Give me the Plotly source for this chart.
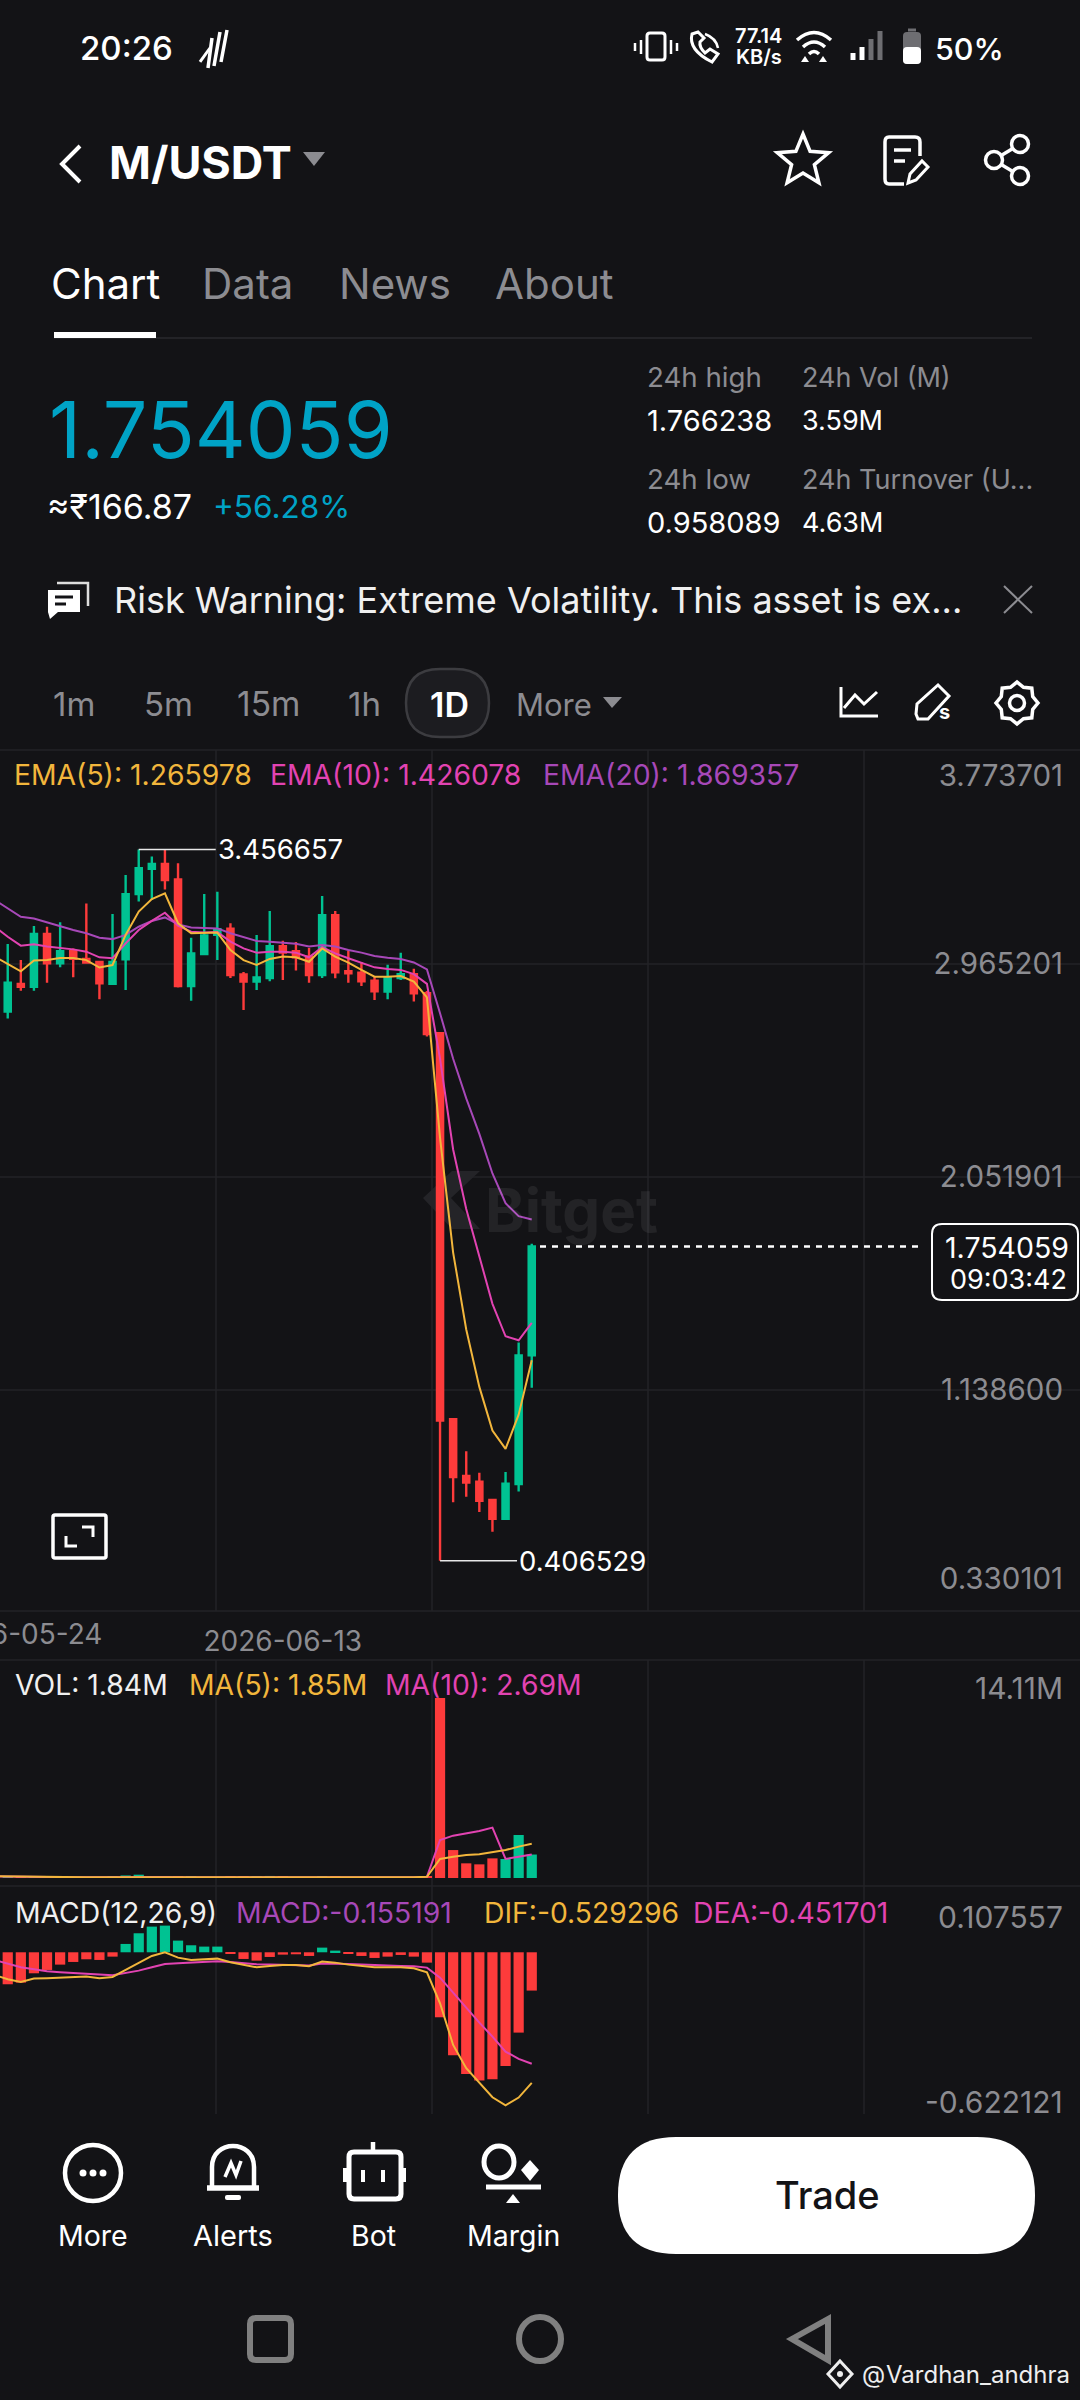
"""
M/USDT daily chart screen, rebuilt with Plotly
"""
import math
import re

import pandas as pd
import plotly.graph_objects as go

W, H = 1080, 2400
FONT = 'Inter, sans-serif'
BG = '#131316'
GRID = '#232327'
GREY = '#8c8c91'
UP = '#00c292'
DOWN = '#fd3b3b'
YELLOW = '#f2b63c'
PINK = '#e243b2'
PURPLE = '#a748b8'
CYAN = '#00a3c6'

dates = pd.date_range('2026-05-22', periods=42)

opens = [2.900, 2.761, 2.880, 2.868, 3.094, 2.968, 3.020, 2.987, 2.974, 2.880, 2.985, 3.265, 3.374, 3.394,
         3.328, 2.871, 3.008, 3.091, 3.117, 2.920, 2.890, 2.905, 3.042, 3.020, 2.997, 2.918, 3.175, 2.934,
         2.928, 2.894, 2.847, 2.905, 2.922, 2.840, 2.669, 1.013, 0.770, 0.745, 0.667, 0.586, 0.735, 1.287]
highs = [2.920, 3.051, 2.982, 3.128, 3.125, 3.144, 3.032, 3.225, 2.975, 3.180, 3.347, 3.456657, 3.426, 3.454,
         3.397, 3.078, 3.265, 3.275, 3.140, 2.931, 3.090, 3.193, 3.065, 3.060, 3.034, 3.257, 3.193, 3.022,
         2.974, 2.914, 2.962, 3.014, 2.945, 2.850, 2.669, 1.013, 0.876, 0.784, 0.672, 0.787, 1.342, 1.766238]
lows = [2.740, 2.732, 2.851, 2.851, 2.885, 2.951, 2.908, 2.968, 2.814, 2.880, 2.854, 3.233, 3.240, 3.285,
        2.865, 2.808, 3.008, 2.982, 2.905, 2.768, 2.854, 2.891, 2.897, 2.937, 2.885, 2.905, 2.904, 2.885,
        2.871, 2.811, 2.814, 2.897, 2.805, 2.654, 0.406529, 0.657, 0.681, 0.616, 0.531, 0.584, 0.703, 1.148]
closes = [2.760, 2.885, 2.868, 3.094, 2.968, 3.020, 2.988, 2.972, 2.882, 2.974, 3.265, 3.376, 3.394, 3.325,
          2.871, 3.011, 3.088, 3.114, 2.918, 2.890, 2.908, 3.042, 3.014, 2.994, 2.918, 3.175, 2.930, 2.925,
          2.891, 2.848, 2.905, 2.922, 2.840, 2.665, 1.008, 0.765, 0.742, 0.664, 0.586, 0.737, 1.287, 1.754059]

ema5 = [2.997, 2.965, 2.934, 2.980, 2.982, 2.991, 2.991, 2.982, 2.950, 2.961, 3.090, 3.190, 3.244, 3.268,
        3.140, 3.097, 3.097, 3.100, 3.025, 2.982, 2.961, 2.987, 2.997, 2.994, 2.975, 3.032, 2.997, 2.971,
        2.940, 2.911, 2.911, 2.914, 2.890, 2.822, 2.220, 1.728, 1.398, 1.152, 0.965, 0.886, 1.033, 1.265978]
ema10 = [3.125, 3.082, 3.044, 3.050, 3.040, 3.035, 3.028, 3.018, 2.994, 2.990, 3.054, 3.111, 3.150, 3.185,
         3.130, 3.104, 3.100, 3.102, 3.061, 3.032, 3.014, 3.018, 3.018, 3.014, 2.994, 3.037, 3.011, 2.990,
         2.972, 2.951, 2.944, 2.940, 2.922, 2.880, 2.559, 2.170, 1.915, 1.711, 1.508, 1.369, 1.352, 1.426078]
ema20 = [3.240, 3.204, 3.168, 3.160, 3.143, 3.125, 3.111, 3.097, 3.078, 3.072, 3.090, 3.125, 3.150, 3.165,
         3.135, 3.122, 3.121, 3.118, 3.097, 3.082, 3.064, 3.061, 3.058, 3.052, 3.040, 3.047, 3.040, 3.025,
         3.014, 3.000, 2.992, 2.987, 2.972, 2.942, 2.754, 2.559, 2.389, 2.237, 2.067, 1.940, 1.884, 1.869357]

# volume in millions
volume = [0.14, 0.12, 0.15, 0.10, 0.08, 0.07, 0.06, 0.07, 0.06, 0.12, 0.20, 0.26, 0.12, 0.08,
          0.09, 0.08, 0.07, 0.07, 0.14, 0.10, 0.15, 0.16, 0.09, 0.07, 0.06, 0.10, 0.08, 0.05,
          0.05, 0.05, 0.04, 0.05, 0.06, 0.10, 14.11, 2.19, 1.15, 1.07, 1.54, 1.49, 3.37, 1.84]
vol_line_yellow = [0.14, 0.12, 0.10, 0.09, 0.08, 0.07, 0.06, 0.05, 0.05, 0.05, 0.06, 0.07, 0.07, 0.07,
                   0.07, 0.06, 0.06, 0.06, 0.07, 0.07, 0.06, 0.06, 0.06, 0.05, 0.05, 0.05, 0.05, 0.04,
                   0.04, 0.04, 0.04, 0.04, 0.05, 0.10, 1.49, 1.67, 1.80, 1.86, 2.01, 2.19, 2.46, 2.69]
vol_line_pink = [0.12, 0.10, 0.09, 0.08, 0.07, 0.06, 0.05, 0.05, 0.06, 0.07, 0.08, 0.09, 0.08, 0.07,
                 0.06, 0.06, 0.06, 0.07, 0.08, 0.08, 0.07, 0.07, 0.06, 0.05, 0.05, 0.05, 0.05, 0.04,
                 0.04, 0.04, 0.04, 0.04, 0.05, 0.10, 2.98, 3.32, 3.50, 3.68, 3.95, 1.49, 1.67, 1.85]

macd_hist = [-0.0986, -0.1296, -0.1229, -0.0851, -0.0716, -0.0500, -0.0392, -0.0284, -0.0311, -0.0176,
             0.0338, 0.0770, 0.1040, 0.1080, 0.0473, 0.0284, 0.0230, 0.0230, -0.0068, -0.0270, -0.0338,
             -0.0189, -0.0095, -0.0081, -0.0149, 0.0189, 0.0068, -0.0041, -0.0149, -0.0230, -0.0176,
             -0.0108, -0.0176, -0.0419, -0.2633, -0.4172, -0.4928, -0.5198, -0.5144, -0.4604, -0.3254,
             -0.155191]
dif = [-0.0918, -0.1094, -0.1202, -0.1067, -0.1053, -0.1026, -0.0999, -0.0986, -0.1053, -0.0999, -0.0716,
       -0.0419, -0.0149, 0.0, -0.0216, -0.0311, -0.0297, -0.0257, -0.0405, -0.0513, -0.0608, -0.0554,
       -0.0513, -0.0513, -0.0567, -0.0378, -0.0419, -0.0500, -0.0554, -0.0608, -0.0608, -0.0608, -0.0648,
       -0.0810, -0.2066, -0.3753, -0.4698, -0.5306, -0.5873, -0.6197, -0.5886, -0.529296]
dea = [-0.0311, -0.0473, -0.0608, -0.0689, -0.0770, -0.0810, -0.0851, -0.0878, -0.0905, -0.0932, -0.0851,
       -0.0743, -0.0608, -0.0473, -0.0446, -0.0419, -0.0392, -0.0365, -0.0392, -0.0446, -0.0486, -0.0500,
       -0.0513, -0.0527, -0.0540, -0.0459, -0.0459, -0.0473, -0.0500, -0.0527, -0.0540, -0.0554, -0.0567,
       -0.0621, -0.1026, -0.1634, -0.2268, -0.2849, -0.3416, -0.4023, -0.4320, -0.451701]

price_ticks = [3.773701, 2.965201, 2.051901, 1.138600, 0.330101]
price_labels = ['3.773701', '2.965201', '2.051901', '1.138600', '0.330101']
price_grid = [2.965201, 2.051901, 1.138600]
date_ticks = ['2026-06-13']

annotations = []
shapes = []


def pane(top, bottom):
    return [1 - bottom / H, 1 - top / H]


def label(text, x, y, size, color='#ffffff', anchor='left', weight=400):
    annotations.append(dict(text=text, x=x / W, y=1 - y / H, xref='paper', yref='paper',
                            xanchor=anchor, yanchor='middle', showarrow=False,
                            font=dict(family=FONT, size=size, color=color, weight=weight)))


def to_paper(d):
    # path written in screen pixels, converted to paper fractions
    parts = re.findall(r'[A-Za-z]|-?[\d.]+', d)
    out, is_x = [], True
    for p in parts:
        if p.isalpha():
            out.append(p)
            is_x = True
        else:
            out.append(f'{float(p) / W:.5f}' if is_x else f'{1 - float(p) / H:.5f}')
            is_x = not is_x
    return ' '.join(out)


def path(d, color='#ffffff', width=3.5, fill=None, layer='above'):
    shapes.append(dict(type='path', path=to_paper(d), xref='paper', yref='paper', layer=layer,
                       line=dict(color=color, width=width), fillcolor=fill))


def seg(x0, y0, x1, y1, color='#ffffff', width=3.5, dash='solid', layer='above'):
    shapes.append(dict(type='line', x0=x0 / W, x1=x1 / W, y0=1 - y0 / H, y1=1 - y1 / H,
                       xref='paper', yref='paper', layer=layer,
                       line=dict(color=color, width=width, dash=dash)))


def ring(cx, cy, rx, ry, color='#ffffff', width=3.5, fill=None):
    shapes.append(dict(type='circle', x0=(cx - rx) / W, x1=(cx + rx) / W, y0=1 - (cy + ry) / H,
                       y1=1 - (cy - ry) / H, xref='paper', yref='paper',
                       line=dict(color=color, width=width), fillcolor=fill))


def round_rect(x0, y0, x1, y1, r, color='#ffffff', width=3.5, fill=None):
    path(f'M {x0 + r} {y0} L {x1 - r} {y0} Q {x1} {y0} {x1} {y0 + r} L {x1} {y1 - r} Q {x1} {y1} {x1 - r} {y1} '
         f'L {x0 + r} {y1} Q {x0} {y1} {x0} {y1 - r} L {x0} {y0 + r} Q {x0} {y0} {x0 + r} {y0} Z',
         color, width, fill)


fig = go.Figure()

fig.add_trace(go.Candlestick(
    x=dates, open=opens, high=highs, low=lows, close=closes, xaxis='x', yaxis='y',
    whiskerwidth=0, showlegend=False,
    increasing=dict(line=dict(color=UP, width=2.4), fillcolor=UP),
    decreasing=dict(line=dict(color=DOWN, width=2.4), fillcolor=DOWN),
))
for series, color in [(ema20, PURPLE), (ema10, PINK), (ema5, YELLOW)]:
    fig.add_trace(go.Scatter(x=dates, y=series, mode='lines', xaxis='x', yaxis='y',
                             line=dict(color=color, width=2), showlegend=False))

vol_colors = [UP if c >= o else DOWN for o, c in zip(opens, closes)]
fig.add_trace(go.Bar(x=dates, y=volume, marker=dict(color=vol_colors, line=dict(width=0)),
                     xaxis='x2', yaxis='y2', showlegend=False))
for series, color in [(vol_line_pink, PINK), (vol_line_yellow, YELLOW)]:
    fig.add_trace(go.Scatter(x=dates, y=series, mode='lines', xaxis='x2', yaxis='y2',
                             line=dict(color=color, width=2), showlegend=False))

hist_colors = [UP if v >= 0 else DOWN for v in macd_hist]
fig.add_trace(go.Bar(x=dates, y=macd_hist, marker=dict(color=hist_colors, line=dict(width=0)),
                     xaxis='x3', yaxis='y3', showlegend=False))
for series, color in [(dea, PINK), (dif, YELLOW)]:
    fig.add_trace(go.Scatter(x=dates, y=series, mode='lines', xaxis='x3', yaxis='y3',
                             line=dict(color=color, width=2), showlegend=False))

# chart frame: separators and grid
for y in [750, 1611, 1660, 1886]:
    seg(0, y, W, y, color=GRID, width=1.5, layer='below')
for x in [216, 432, 648, 864]:
    seg(x, 750, x, 1611, color=GRID, width=1.5, layer='below')
    seg(x, 1660, x, 2114, color=GRID, width=1.5, layer='below')
for level in price_grid:
    shapes.append(dict(type='line', xref='paper', yref='y', x0=0, x1=1, y0=level, y1=level, layer='below',
                       line=dict(color=GRID, width=1.5)))

# last price line and box
shapes.append(dict(type='line', xref='paper', yref='y', x0=540 / W, x1=918 / W, y0=closes[-1], y1=closes[-1],
                   line=dict(color='#ffffff', width=2.5, dash='6px,6px')))
round_rect(932, 1224, 1078, 1300, 10, width=2, fill=BG)
label(f'{closes[-1]:.6f}', 1071, 1247, 28.5, anchor='right')
label('09:03:42', 1069, 1279, 27, anchor='right')

# high / low markers
for i, text, y_val in [(11, '3.456657', highs[11]), (34, '0.406529', lows[34])]:
    annotations.append(dict(text=text, x=dates[i], y=y_val, xref='x', yref='y', xanchor='left', yanchor='middle',
                            ax=77, ay=0, showarrow=True, arrowhead=0, arrowwidth=1.5, arrowcolor='#e8e8e8',
                            font=dict(family=FONT, size=27.5, color='#ffffff')))

# left date label runs off the screen edge, the axis drops it
annotations.append(dict(text='2026-05-24', x=dates[2], xref='x', y=1 - 1634 / H, yref='paper', xanchor='center',
                        yanchor='middle', showarrow=False, font=dict(family=FONT, size=28, color=GREY)))

# watermark under the candles
path('M 423 1198 L 452 1171 L 480 1171 L 451 1198 L 480 1229 L 452 1229 Z', color='rgba(0,0,0,0)', width=0,
     fill='#242428', layer='below')
label('Bitget', 483, 1210, 60, color='rgba(255,255,255,0.07)', weight=700)

# expand icon
round_rect(53, 1515, 106, 1558, 2, width=3.5)
path('M 66 1536 L 66 1546 L 77 1546', width=3)
path('M 82 1527 L 93 1527 L 93 1537', width=3)

# pane headers
label('EMA(5): 1.265978', 12, 775, 28.3, YELLOW)
label('EMA(10): 1.426078', 268, 775, 28.3, PINK)
label('EMA(20): 1.869357', 541, 775, 28.3, PURPLE)
label('VOL: 1.84M', 13, 1685, 28.3, '#f0f0f0')
label('MA(5): 1.85M', 187, 1685, 28.3, YELLOW)
label('MA(10): 2.69M', 383, 1685, 28.3, PINK)
label('14.11M', 1065, 1688, 30, GREY, anchor='right')
label('MACD(12,26,9)', 13, 1913, 28.3, '#f0f0f0')
label('MACD:-0.155191', 234, 1913, 28.3, PURPLE)
label('DIF:-0.529296', 482, 1913, 28.3, YELLOW)
label('DEA:-0.451701', 691, 1913, 28.3, PINK)
label('0.107557', 1065, 1917, 30, GREY, anchor='right')
label('-0.622121', 1065, 2102, 30, GREY, anchor='right')

# status bar
label('20:26', 78, 48, 33, weight=500)
path('M 212 38 L 208 68 M 220 32 L 214 66 M 227 30 L 221 62', width=3.5)
path('M 200 62 L 210 48', width=3)
round_rect(647, 33, 665, 60, 3, width=3)
seg(641, 40, 641, 54, width=2.5)
seg(635, 43, 635, 51, width=2.5)
seg(671, 40, 671, 54, width=2.5)
seg(677, 43, 677, 51, width=2.5)
path('M 692 34 Q 688 50 712 62 L 718 54 L 710 49 L 705 53 Q 699 47 700 42 L 704 38 L 698 32 Z', width=3)
path('M 705 34 Q 716 38 718 48', width=2.5)
label('77.14', 759, 36, 20, anchor='center', weight=600)
label('KB/s', 759, 57, 20, anchor='center', weight=600)
path('M 797 40 Q 814 25 831 40', width=3.5)
path('M 803 47 Q 814 37 825 47', width=3.5)
path('M 809 54 Q 814 49 819 54', width=3.5)
path('M 805 56 L 809 62 L 801 62 Z', fill='#ffffff', width=0)
path('M 823 56 L 827 62 L 819 62 Z', fill='#ffffff', width=0)
seg(853, 53, 853, 60, width=5)
seg(862, 47, 862, 60, width=5)
seg(871, 39, 871, 60, color='#6e6e72', width=5)
seg(880, 31, 880, 60, color='#6e6e72', width=5)
round_rect(903, 32, 921, 64, 4, color='#6e6e72', width=0, fill='#6e6e72')
round_rect(903, 47, 921, 64, 4, width=0, fill='#ffffff')
seg(908, 30, 916, 30, color='#6e6e72', width=3)
label('50%', 933, 48, 30.5, weight=500)

# header
path('M 80 146 L 62 164 L 80 182', width=4)
label('M/USDT', 107, 162, 45, weight=700)
path('M 303 152 L 325 152 L 314 166 Z', color=GREY, width=0, fill=GREY)
star = []
for k in range(10):
    r = 27 if k % 2 == 0 else 12
    a = -math.pi / 2 + k * math.pi / 5
    star.append(f'{803 + r * math.cos(a):.1f} {161 + r * math.sin(a):.1f}')
path('M ' + ' L '.join(star) + ' Z', width=3.5)
path('M 920 156 L 920 142 Q 920 137 915 137 L 889 137 Q 885 137 885 142 L 885 179 Q 885 184 889 184 L 904 184',
     width=3.5)
seg(894, 150, 911, 150, width=3.5)
seg(894, 161, 905, 161, width=3.5)
path('M 908 183 L 910 174 L 922 161 L 928 167 L 916 180 Z', width=3)
for cx, cy in [(1020, 144), (994, 160), (1020, 176)]:
    ring(cx, cy, 8.5, 8.5, width=3.5)
seg(1002, 155, 1012, 149, width=3.5)
seg(1002, 165, 1012, 171, width=3.5)

# tabs
label('Chart', 49, 284, 42)
label('Data', 200, 284, 42, GREY)
label('News', 337, 284, 42, GREY)
label('About', 493, 284, 42, GREY)
seg(54, 338, 1032, 338, color='#2a2a2e', width=1.5)
seg(54, 335, 156, 335, width=6)

# ticker block
label('1.754059', 47, 429, 79, CYAN)
label('≈₹166.87', 45, 507, 34)
label('+56.28%', 211, 507, 31.5, CYAN)
label('24h high', 645, 377, 27.7, GREY)
label('1.766238', 645, 420, 29)
label('24h low', 645, 479, 27.7, GREY)
label('0.958089', 645, 522, 29)
label('24h Vol (M)', 800, 377, 27, GREY)
label('3.59M', 800, 420, 27)
label('24h Turnover (U...', 800, 479, 27, GREY)
label('4.63M', 800, 522, 27)

# risk warning
path('M 57 583 L 88 583 L 88 606', color='#dddddd', width=2.5)
path('M 48 590 L 80 590 L 80 612 L 58 612 L 50 619 L 48 612 Z', width=0, fill='#ffffff')
seg(55, 597, 73, 597, color=BG, width=3)
seg(55, 604, 66, 604, color=BG, width=3)
label('Risk Warning: Extreme Volatility. This asset is ex...', 112, 600, 36, '#f0f0f0')
seg(1004, 586, 1032, 613, color=GREY, width=2)
seg(1032, 586, 1004, 613, color=GREY, width=2)

# interval row
label('1m', 51, 704, 33, GREY)
label('5m', 142, 704, 33, GREY)
label('15m', 235, 704, 33.5, GREY)
label('1h', 346, 704, 33, GREY)
round_rect(406, 669, 489, 737, 34, color='#3c3c40', width=2.5, fill='#1c1c20')
label('1D', 449, 704, 34, anchor='center', weight=600)
label('More', 514, 704, 31, GREY)
path('M 603 697 L 622 697 L 612 708 Z', color=GREY, width=0, fill=GREY)
path('M 841 687 L 841 716 L 878 716', width=3)
path('M 844 708 L 855 695 L 864 704 L 877 692', width=3)
path('M 916 714 L 917 704 L 938 685 L 949 696 L 928 719 L 918 719 Z', width=3)
label('s', 937, 712, 20, weight=700)
gear = []
for k in range(16):
    r = 21 if k % 2 == 0 else 17
    a = k * math.pi / 8
    gear.append(f'{1017 + r * math.cos(a):.1f} {703 + r * math.sin(a):.1f}')
path('M ' + ' L '.join(gear) + ' Z', width=3.5)
ring(1017, 703, 7.5, 7.5, width=3.5)

# bottom actions
ring(93, 2173, 28, 28, width=4.5)
for dx in [-10, 0, 10]:
    ring(93 + dx, 2173, 3.5, 3.5, width=0, fill='#ffffff')
label('More', 93, 2235, 28.5, anchor='center')
label('Alerts', 233, 2235, 29, anchor='center')
label('Bot', 373, 2235, 28.5, anchor='center')
label('Margin', 513, 2235, 28.5, anchor='center')
path('M 212 2187 L 212 2167 C 212 2139 254 2139 254 2167 L 254 2187', width=4.5)
seg(207, 2188, 259, 2188, width=5.5)
round_rect(225, 2195, 241, 2200, 2, width=0, fill='#ffffff')
path('M 225 2177 L 231 2163 L 236 2175 L 241 2161', width=3.5)
round_rect(349, 2152, 401, 2199, 5, width=5)
seg(373, 2142, 373, 2151, width=4.5)
seg(345, 2168, 345, 2182, width=4)
seg(404, 2168, 404, 2182, width=4)
seg(363, 2170, 363, 2182, width=4)
seg(383, 2170, 383, 2182, width=4)
ring(499, 2162, 15, 16, width=5)
path('M 530 2160 L 539 2170 L 530 2181 L 521 2170 Z', width=0, fill='#ffffff')
seg(486, 2187, 541, 2187, width=5)
path('M 513 2194 L 520 2203 L 506 2203 Z', width=0, fill='#ffffff')
round_rect(618, 2137, 1035, 2254, 58, width=0, fill='#ffffff')
label('Trade', 827, 2195, 38, '#131316', anchor='center', weight=500)

# system nav
round_rect(250, 2318, 291, 2360, 6, color='#808080', width=6)
ring(540, 2339, 21, 22, color='#808080', width=6)
path('M 828 2319 L 792 2339 L 828 2360 Z', color='#808080', width=6)
path('M 840 2361 L 852 2374 L 840 2387 L 828 2374 Z', color='#eeeeee', width=3)
ring(840, 2374, 3, 3, width=0, fill='#eeeeee')
label('@', 860, 2374, 24, '#eeeeee')
label('Vardhan_andhra', 884, 2374, 24, '#eeeeee')

x_range = [dates[0] + pd.Timedelta(days=0.41), dates[0] + pd.Timedelta(days=82.85)]
hidden_x = dict(type='date', range=x_range, domain=[0, 1], showgrid=False, showticklabels=False, zeroline=False,
                showline=False, ticks='', rangeslider=dict(visible=False))

fig.update_layout(
    width=W, height=H, margin=dict(l=0, r=0, t=0, b=0), autosize=False,
    paper_bgcolor=BG, plot_bgcolor='rgba(0,0,0,0)',
    font=dict(family=FONT), showlegend=False, hovermode=False,
    bargap=0.22, boxgap=0.33,
    annotations=annotations, shapes=shapes,
    xaxis=dict(type='date', range=x_range, domain=[0, 1], anchor='y', showgrid=False, zeroline=False, showline=False,
               rangeslider=dict(visible=False), tickmode='array', tickvals=date_ticks, ticktext=date_ticks,
               ticks='outside', ticklen=5, tickcolor='rgba(0,0,0,0)', tickfont=dict(family=FONT, size=28, color=GREY)),
    yaxis=dict(domain=pane(751, 1611), range=[0.1910, 3.8786], side='right', anchor='x', showgrid=False,
               zeroline=False, showline=False, tickmode='array', tickvals=price_ticks, ticktext=price_labels,
               ticklabelposition='inside', ticklabelstandoff=14, ticks='',
               tickfont=dict(family=FONT, size=29.5, color=GREY)),
    xaxis2=dict(hidden_x, anchor='y2'),
    yaxis2=dict(domain=pane(1660, 1878), range=[0, 17.09], anchor='x2', visible=False),
    xaxis3=dict(hidden_x, anchor='y3'),
    yaxis3=dict(domain=pane(1886, 2112), range=[-0.647, 0.2685], anchor='x3', visible=False),
)

fig.write_html("out.html", config={'displayModeBar': False}, post_script="document.body.style.margin='0';")
